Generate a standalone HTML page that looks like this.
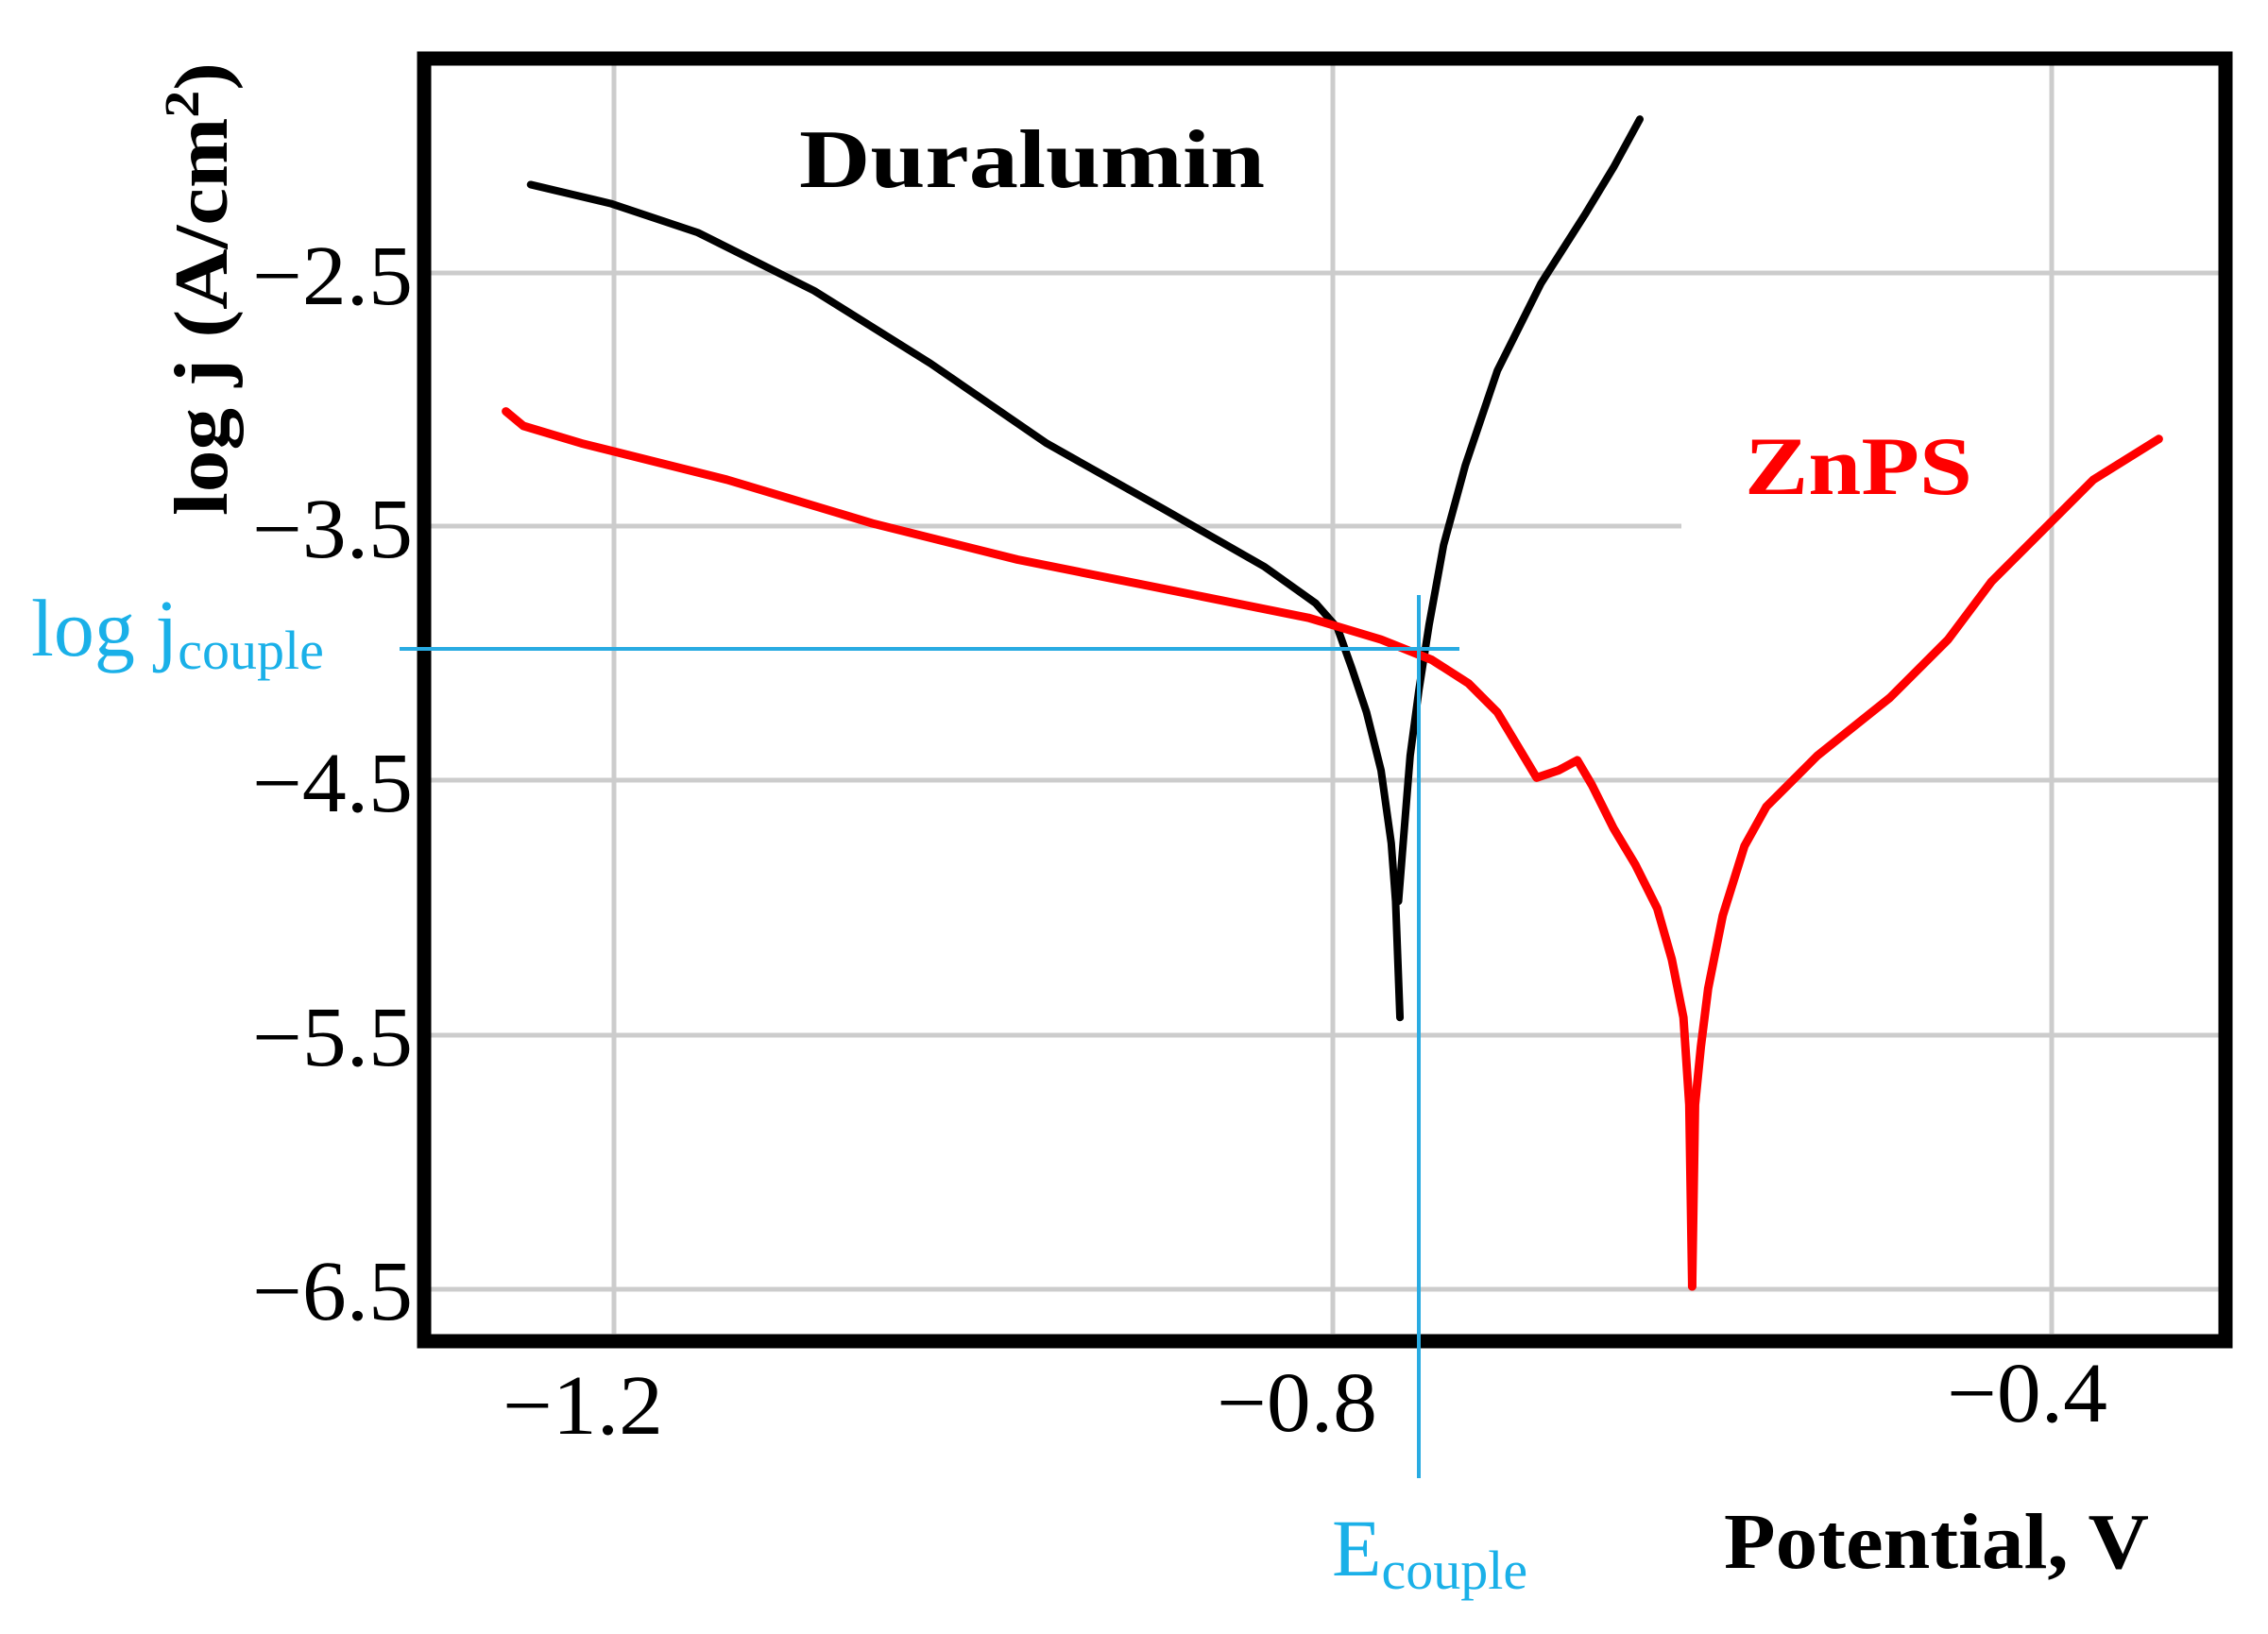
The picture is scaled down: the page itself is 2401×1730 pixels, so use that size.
<!DOCTYPE html>
<html><head><meta charset="utf-8"><style>
html,body{margin:0;padding:0;background:#fff;}
svg{display:block;}
</style></head><body>
<svg width="2401" height="1730" viewBox="0 0 2401 1730" xmlns="http://www.w3.org/2000/svg">
<rect width="2401" height="1730" fill="#fff"/>
<g stroke="#cccccc" stroke-width="5">
<line x1="650" y1="62" x2="650" y2="1412"/>
<line x1="1411" y1="62" x2="1411" y2="1412"/>
<line x1="2172" y1="62" x2="2172" y2="1412"/>
<line x1="456" y1="289" x2="2349" y2="289"/>
<line x1="456" y1="557" x2="1780" y2="557"/>
<line x1="456" y1="826" x2="2349" y2="826"/>
<line x1="456" y1="1096" x2="2349" y2="1096"/>
<line x1="456" y1="1365" x2="2349" y2="1365"/>
</g>
<rect x="449" y="62" width="1907" height="1358" fill="none" stroke="#000" stroke-width="15"/>
<g transform="scale(1.539)" fill="none" stroke-linejoin="round" stroke-linecap="round">
<polyline stroke="#000" stroke-width="5.2" points="365,127 420,140 480,160 560,200 640,250 720,305 800,350 870,390 905,415 920,432 930,460 940,490 950,530 957,580 960,620 963,700"/>
<polyline stroke="#000" stroke-width="5.2" points="962,620 966,570 970,520 976,475 983,430 993,375 1008,320 1030,255 1060,195 1090,148 1110,115 1128,82"/>
<polyline stroke="#ff0000" stroke-width="5.8" points="348,283 360,293 400,305 500,330 600,360 700,385 800,405 900,425 950,440 985,454 1010,470 1030,490 1045,515 1057,535 1072,530 1085,523 1095,540 1110,570 1125,595 1140,625 1150,660 1158,700 1162,760 1164,885"/>
<polyline stroke="#ff0000" stroke-width="5.8" points="1164,885 1166,760 1170,720 1175,680 1185,630 1200,582 1215,555 1250,520 1300,480 1340,440 1370,400 1400,370 1440,330 1485,302"/>
</g>
<g stroke="#29abe2" stroke-width="4">
<line x1="423" y1="687" x2="1545" y2="687"/>
<line x1="1502" y1="630" x2="1502" y2="1565"/>
</g>
<g font-family="'Liberation Serif',serif" font-size="90" fill="#000" text-anchor="end">
<text x="437" y="322" textLength="170" lengthAdjust="spacingAndGlyphs">−2.5</text>
<text x="437" y="590" textLength="170" lengthAdjust="spacingAndGlyphs">−3.5</text>
<text x="437" y="859" textLength="170" lengthAdjust="spacingAndGlyphs">−4.5</text>
<text x="437" y="1128" textLength="170" lengthAdjust="spacingAndGlyphs">−5.5</text>
<text x="437" y="1397" textLength="170" lengthAdjust="spacingAndGlyphs">−6.5</text>
</g>
<g font-family="'Liberation Serif',serif" font-size="90" fill="#000" text-anchor="middle">
<text x="617" y="1518" textLength="170" lengthAdjust="spacingAndGlyphs">−1.2</text>
<text x="1373" y="1515" textLength="170" lengthAdjust="spacingAndGlyphs">−0.8</text>
<text x="2146" y="1505" textLength="170" lengthAdjust="spacingAndGlyphs">−0.4</text>
</g>
<text x="1825" y="1660" font-family="'Liberation Serif',serif" font-weight="bold" font-size="84" fill="#000" textLength="450" lengthAdjust="spacingAndGlyphs">Potential, V</text>
<text transform="translate(240,546) rotate(-90)" font-family="'Liberation Serif',serif" font-weight="bold" font-size="80" fill="#000" textLength="480" lengthAdjust="spacingAndGlyphs">log j (A/cm<tspan font-size="52" dy="-30">2</tspan><tspan dy="30">)</tspan></text>
<text x="846" y="198" font-family="'Liberation Serif',serif" font-weight="bold" font-size="88" fill="#000" textLength="493" lengthAdjust="spacingAndGlyphs">Duralumin</text>
<text x="1847" y="523" font-family="'Liberation Serif',serif" font-weight="bold" font-size="88" fill="#ff0000" textLength="241" lengthAdjust="spacingAndGlyphs">ZnPS</text>
<text x="33" y="694" font-family="'Liberation Serif',serif" font-size="86" fill="#1ab0e8">log j<tspan font-size="58" dy="14">couple</tspan></text>
<text x="1410" y="1668" font-family="'Liberation Serif',serif" font-size="86" fill="#1ab0e8">E<tspan font-size="58" dy="14">couple</tspan></text>
</svg>
</body></html>
